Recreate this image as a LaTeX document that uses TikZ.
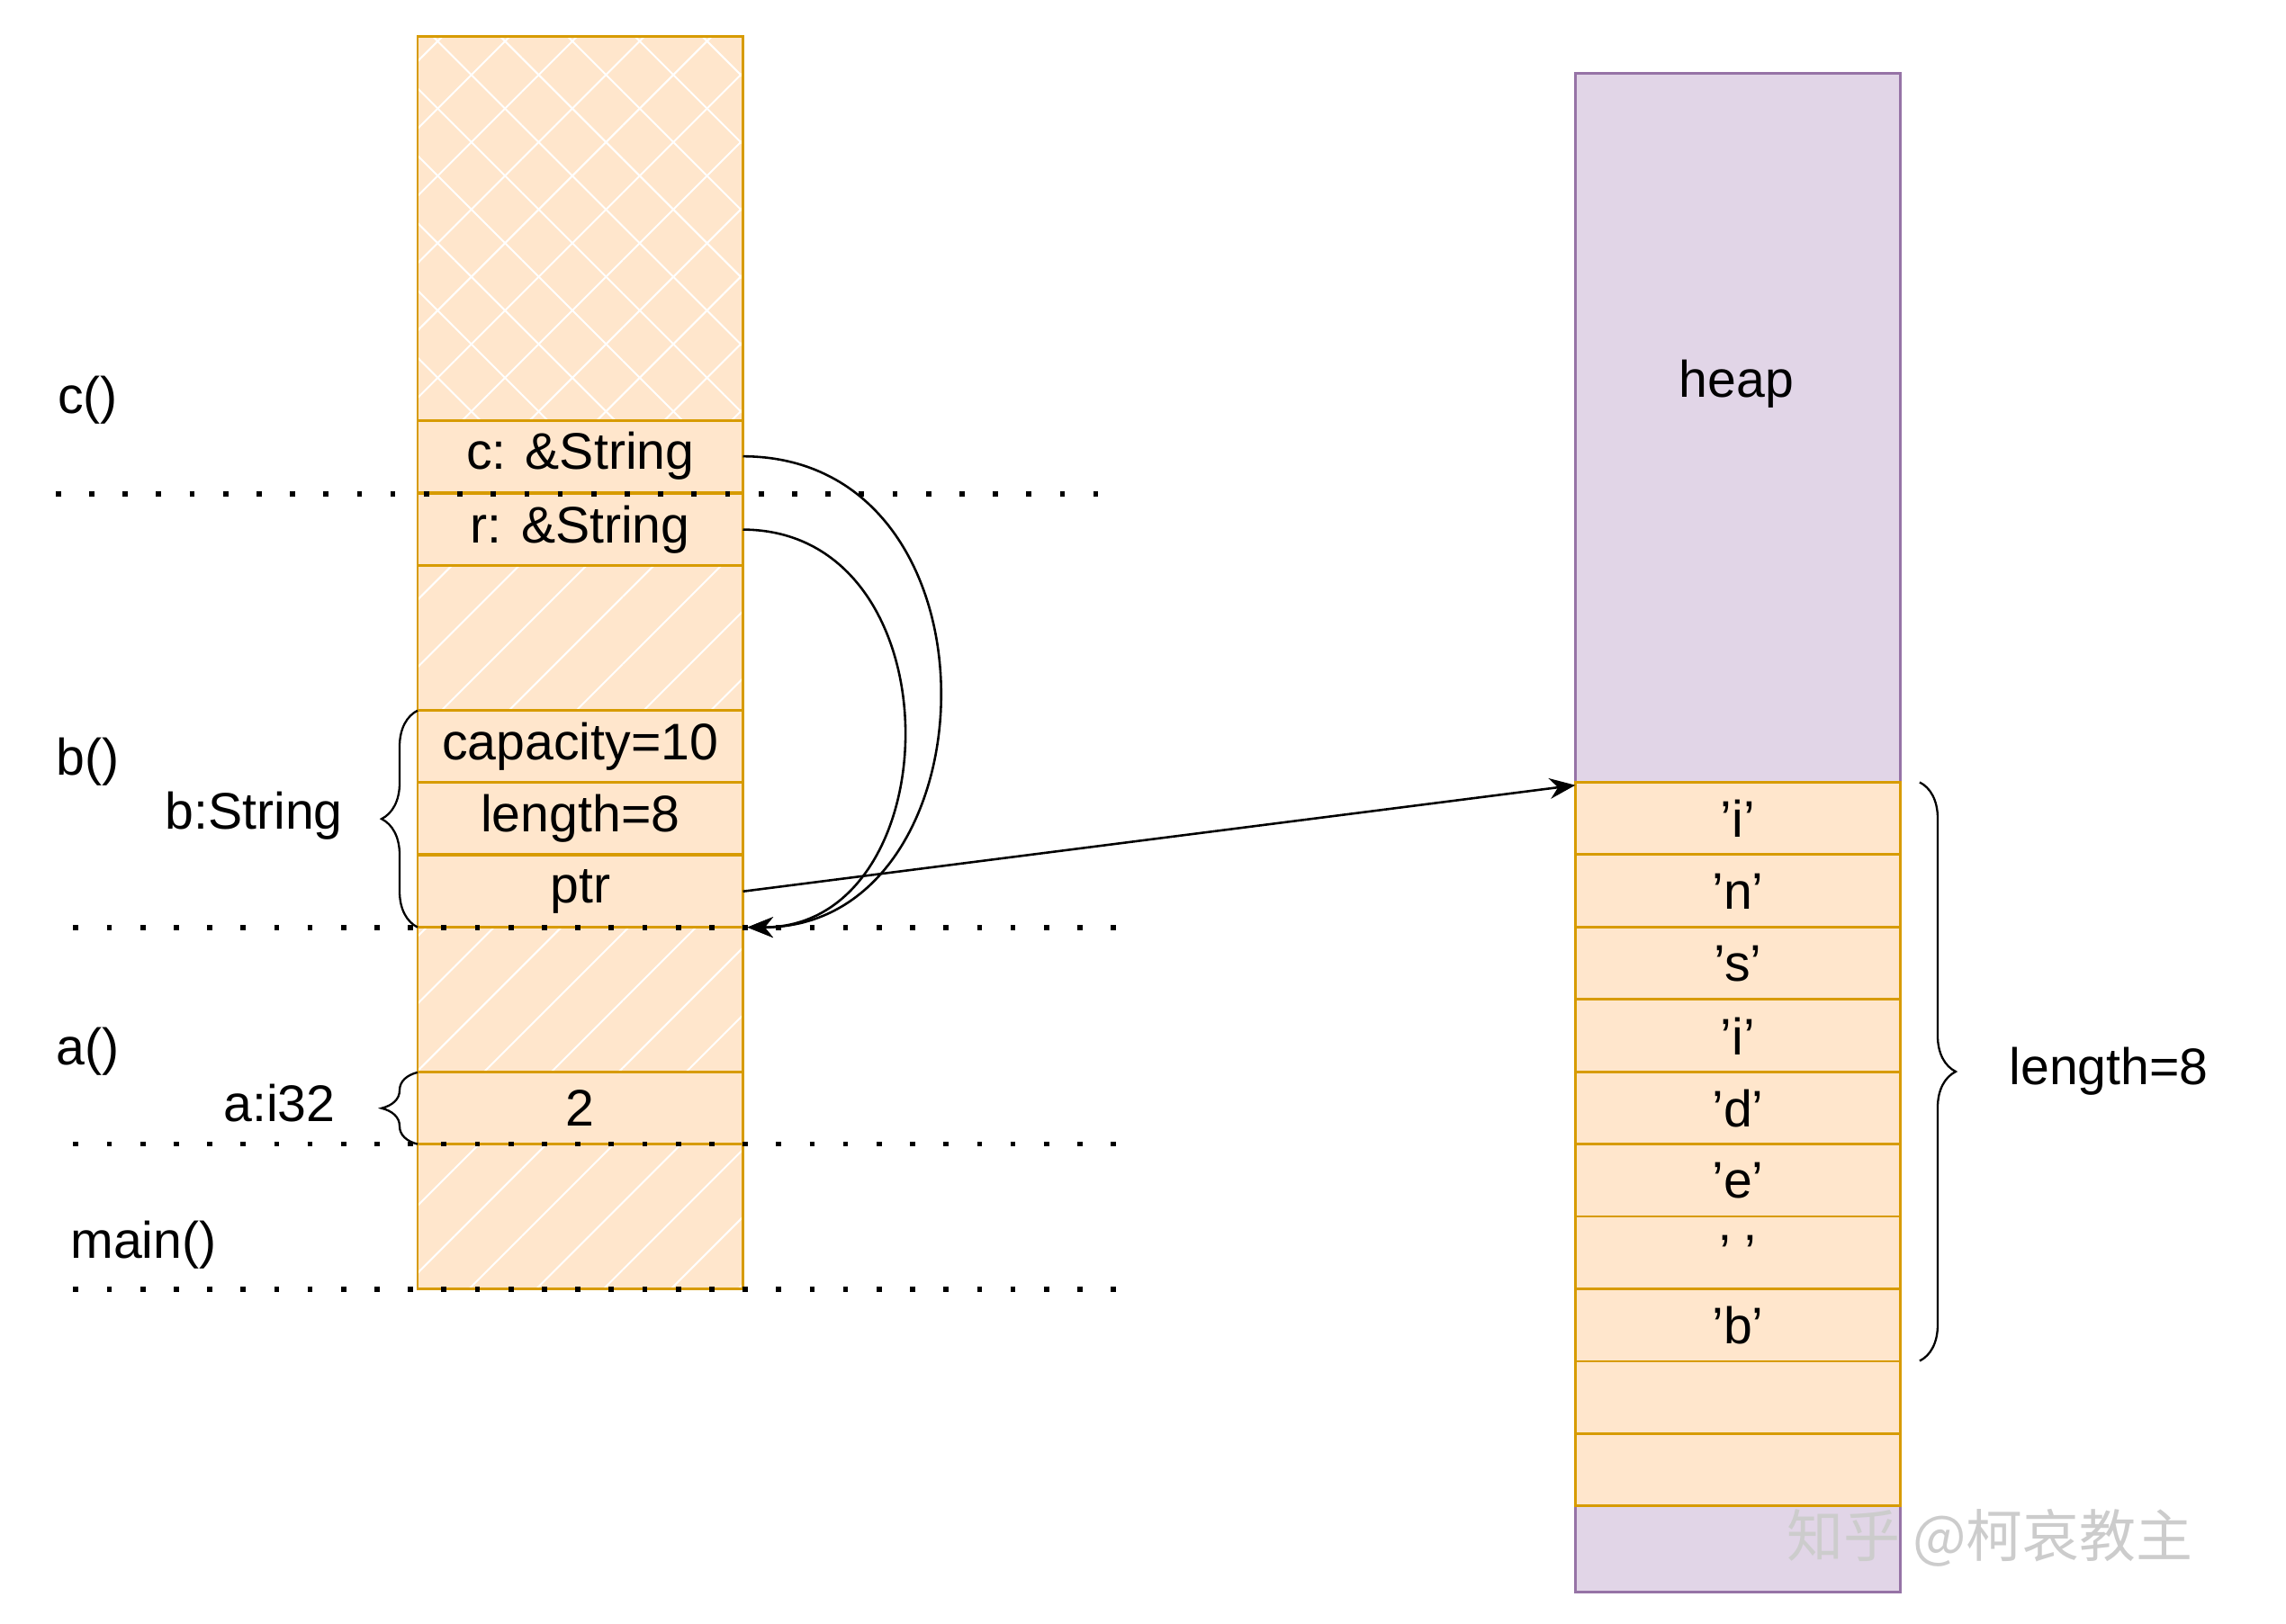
\documentclass[tikz,border=0pt]{standalone}
\usepackage{fontspec}
\setmainfont{Liberation Sans}
\newfontfamily\cjk{Noto Sans CJK SC}
\usetikzlibrary{patterns.meta,decorations.pathreplacing,arrows.meta}
\definecolor{stackfill}{HTML}{FFE6CC}
\definecolor{stackline}{HTML}{D79B00}
\definecolor{heapfill}{HTML}{E1D5E7}
\definecolor{heapline}{HTML}{9673A6}

\begin{document}
\begin{tikzpicture}[%
      x=0.02cm, y=-0.02cm, %
      font=\fontsize{20}{24}\selectfont,
      cell/.style={draw=stackline, fill=stackfill, line width=1pt},
      hatch/.style={pattern={Lines[angle=45,distance=0.65cm,line width=0.7pt]}, pattern color=white},
      cross/.style={pattern={Lines[angle=-45,distance=0.65cm,line width=0.7pt]}, pattern color=white},
      frame/.style={line width=2pt, dash pattern=on 2pt off 11pt},
      brace/.style={decorate, decoration={brace, amplitude=14pt}, line width=0.8pt},
      ref/.style={-{Stealth[length=10pt,width=8pt]}, line width=0.9pt}
      ]
      \useasboundingbox (0,0) rectangle (1560,1108);

      % Stack
      \draw[cell] (285,25) rectangle (507,880);
      \fill[hatch] (285,25) rectangle (507,287);
      \fill[cross] (285,25) rectangle (507,287);
      \fill[hatch] (285,386) rectangle (507,485);
      \fill[hatch] (285,633) rectangle (507,732);
      \fill[hatch] (285,781) rectangle (507,880);
      \draw[stackline, line width=1pt] (285,25) rectangle (507,880);

      \foreach \name/\top/\txt in {%
        c/287/{c: \&String},%
        r/337/{r: \&String},%
        cap/485/{capacity=10},%
        len/534/{length=8},%
        ptr/584/{ptr},%
        ai/732/{2}%
      }{
        \draw[cell] (285,\top) rectangle ++(222,49);
        \node (\name) at (396,\top+24.5) {\txt};
        \coordinate (\name e) at (507,\top+24.5);
      }
      \coordinate (bend) at (510,633);

      % Frames
      \draw[frame] (38,337) -- (760,337);
      \draw[frame] (50,633) -- (770,633);
      \draw[frame] (50,781) -- (770,781);
      \draw[frame] (50,880) -- (770,880);

      \node (fc) at (60,273) {c()};
      \node (fb) at (60,520) {b()};
      \node (fa) at (60,718) {a()};
      \node (fm) at (98,850) {main()};

      \node[anchor=east] (bs) at (240,557) {b:String};
      \draw[brace] (285,633) -- (285,485);
      \node[anchor=east] (as) at (235,753) {a:i32};
      \draw[brace] (285,781) -- (285,732);

      % Heap
      \draw[draw=heapline, fill=heapfill, line width=1pt] (1075,50) rectangle (1297,1087);
      \node (heap) at (1185,262) {heap};
      \foreach \i/\txt in {0/'i',1/'n',2/'s',3/'i',4/'d',5/'e',6/' ',7/'b',8/{},9/{}}{
        \draw[cell] (1075,534+\i*49.4) rectangle ++(222,49.4);
        \node (h\i) at (1186,559+\i*49.4) {\txt};
      }
      \coordinate (hs) at (1075,536);
      \draw[brace] (1310,534) -- (1310,929);
      \node[anchor=west] (hl) at (1365,731) {length=8};

      % References
      \draw[ref] (ptre) -- (hs);
      \draw[ref] (ce) .. controls (690,312) and (680,633) .. (bend);
      \draw[ref] (re) .. controls (655,362) and (650,633) .. (bend);

      \node[text=gray!40, font=\cjk\fontsize{22}{26}\selectfont] (wm) at (1358,1050) {知乎 @柯哀教主};
    \end{tikzpicture}
\end{document}
